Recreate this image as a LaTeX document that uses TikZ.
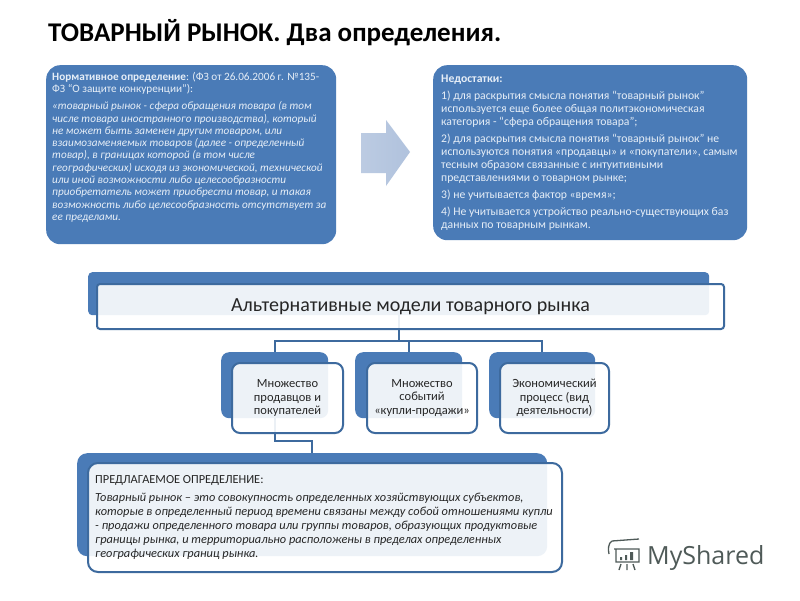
\documentclass[tikz,border=0pt]{standalone}
\usepackage{fontspec}
\setmainfont{Carlito}
\newfontfamily\logofont{Open Sans}
\definecolor{boxblue}{HTML}{4A7BB7}
\definecolor{edgeblue}{HTML}{3D6A9E}
\definecolor{paletext}{HTML}{E6EEF7}
\definecolor{inktext}{HTML}{262626}
\definecolor{logogray}{HTML}{4F5A58}
\definecolor{arrowblue}{HTML}{B0C2DD}
\tikzset{
  x=1pt,y=-1pt,
  solidbox/.style={fill=boxblue,rounded corners=#1,inner sep=0pt,anchor=north west},
  solidbox/.default=6pt,
  veil/.style={draw=edgeblue,line width=2pt,fill=white,fill opacity=.9,text opacity=1,rounded corners=#1,inner sep=0pt,anchor=north west,text=inktext,align=center},
  veil/.default=6pt,
  link/.style={draw=edgeblue,line width=2pt},
  blocktext/.style={anchor=north west,inner sep=0pt,align=left},
}
\begin{document}
\begin{tikzpicture}
\useasboundingbox (0,0) rectangle (800,600);
\fill[white] (0,0) rectangle (800,600);
% title
\node[anchor=base west,inner sep=0pt,font=\fontsize{27}{31}\selectfont\bfseries,text=black] (title) at (48,41) {ТОВАРНЫЙ РЫНОК. Два определения.};
% upper blue panels
\node[solidbox=14pt,minimum width=290pt,minimum height=179pt] (leftpanel) at (46,65) {};
\node[solidbox=14pt,minimum width=314pt,minimum height=175pt] (rightpanel) at (433,65) {};
\node[blocktext,text=paletext,font=\fontsize{11.2}{12.3}\selectfont] (lefttext) at (52,72) {%
\textbf{Нормативное определение}: (ФЗ от 26.06.2006 г. №135-\\
ФЗ “О защите конкуренции”):\\[4.8pt]
\itshape «товарный рынок - сфера обращения товара (в том\\
\itshape числе товара иностранного производства), который\\
\itshape не может быть заменен другим товаром, или\\
\itshape взаимозаменяемых товаров (далее - определенный\\
\itshape товар), в границах которой (в том числе\\
\itshape географических) исходя из экономической, технической\\
\itshape или иной возможности либо целесообразности\\
\itshape приобретатель может приобрести товар, и такая\\
\itshape возможность либо целесообразность отсутствует за\\
\itshape ее пределами.};
\node[blocktext,text=paletext,font=\fontsize{11.7}{13}\selectfont] (righttext) at (441,75) {%
\textbf{Недостатки:}\\[4pt]
1) для раскрытия смысла понятия “товарный рынок”\\
используется еще более общая политэкономическая\\
категория - “сфера обращения товара”;\\[4pt]
2) для раскрытия смысла понятия “товарный рынок” не\\
используются понятия «продавцы» и «покупатели», самым\\
тесным образом связанные с интуитивными\\
представлениями о товарном рынке;\\[4pt]
3) не учитывается фактор «время»;\\[4pt]
4) Не учитывается устройство реально-существующих баз\\
данных по товарным рынкам.};
% arrow
\path[left color=arrowblue!85!white,right color=arrowblue] (361,133) -- (386,133) -- (386,120) -- (410,152) -- (386,186) -- (386,173) -- (361,173) -- cycle;
% back boxes
\node[solidbox=4pt,minimum width=621pt,minimum height=43pt] (topback) at (88,272) {};
\node[solidbox=8pt,minimum width=107pt,minimum height=66pt] (backa) at (221,352) {};
\node[solidbox=8pt,minimum width=107pt,minimum height=66pt] (backb) at (355,352) {};
\node[solidbox=8pt,minimum width=106pt,minimum height=66pt] (backc) at (489,352) {};
\node[solidbox=10pt,minimum width=470pt,minimum height=103pt] (bottomback) at (77,453) {};
% connectors
\coordinate (treeY) at (0,341);
\draw[link] (topback.south) -- (topback.south |- treeY);
\draw[link] (topback.south |- treeY) -| (backa.north);
\draw[link] (topback.south |- treeY) -| (backb.north);
\draw[link] (topback.south |- treeY) -| (backc.north);
\coordinate (lowY) at (0,441);
\draw[link] (backa.south) |- (lowY -| bottomback.north) -- (bottomback.north);
% front boxes
\node[veil=3pt,minimum width=627pt,minimum height=45pt,font=\fontsize{20}{23}\selectfont] (topfront) at (96,283) {Альтернативные модели товарного рынка};
\node[veil=8pt,minimum width=111pt,minimum height=70pt,font=\fontsize{12.5}{13.4}\selectfont] (fronta) at (231,362) {Множество\\продавцов и\\покупателей};
\node[veil=8pt,minimum width=110pt,minimum height=70pt,font=\fontsize{12.5}{13.4}\selectfont] (frontb) at (366,362) {Множество\\событий\\«купли-продажи»};
\node[veil=8pt,minimum width=109pt,minimum height=70pt,font=\fontsize{12.5}{13.4}\selectfont] (frontc) at (499,362) {Экономический\\процесс (вид\\деятельности)};
\node[veil=10pt,minimum width=474pt,minimum height=109pt] (bottomfront) at (87,462) {};
\node[blocktext,text=inktext,font=\fontsize{12.35}{13.8}\selectfont] (bottomtext) at (95,475) {%
ПРЕДЛАГАЕМОЕ ОПРЕДЕЛЕНИЕ:\\[4.8pt]
\itshape Товарный рынок – это совокупность определенных хозяйствующих субъектов,\\
\itshape которые в определенный период времени связаны между собой отношениями купли\\
\itshape - продажи определенного товара или группы товаров, образующих продуктовые\\
\itshape границы рынка, и территориально расположены в пределах определенных\\
\itshape географических границ рынка.};
% watermark
\begin{scope}[draw=logogray,line width=1.3pt]
\draw (612,541) -- (639,539) (614,549) -- (639,549) -- (639,562) -- (616,562) -- (616,549);
\draw (612,541) .. controls (608,543) and (608,550) .. (609,554);
\fill[logogray] (620,557) rectangle (622,560) (625,555) rectangle (627,560) (630,552) rectangle (633,560);
\draw (621,564) -- (619,570) (627,564) -- (627,570) (633,564) -- (635,570);
\end{scope}
\node[anchor=base west,inner sep=0pt,font=\logofont\fontsize{25}{30}\selectfont,text=logogray] (logo) at (647,564) {MyShared};
\end{tikzpicture}
\end{document}
